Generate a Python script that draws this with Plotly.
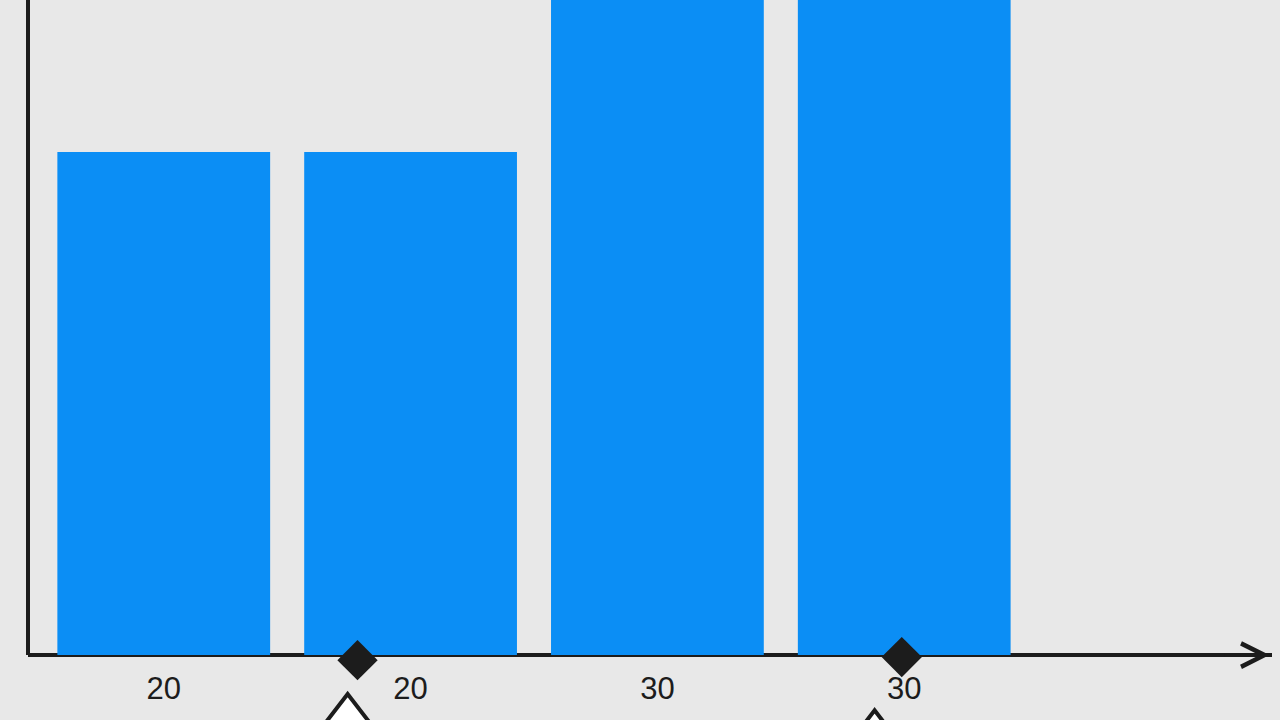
import plotly.graph_objects as go

# datos del gráfico
categorias = [0, 1, 2, 3]
valores = [20, 20, 30, 30]
etiquetas = ["20", "20", "30", "30"]

# marcadores sobre / bajo el eje x
rombos_x = [0.785, 2.99]
rombos_y = [-0.2, -0.08]
triangulos_x = [0.745, 2.88]
triangulos_y = [-2.7, -3.35]

AZUL = "#0b8ef5"
FONDO = "#e8e8e8"
NEGRO = "#1c1c1c"

X_MIN, X_MAX = -0.55, 4.49
Y_MIN, Y_MAX = -2.58, 26.04

fig = go.Figure()

fig.add_trace(go.Bar(
    x=categorias, y=valores,
    marker=dict(color=AZUL, line=dict(width=0)),
    width=0.862,
    showlegend=False, hoverinfo="skip",
))

# etiquetas debajo de cada barra
fig.add_trace(go.Scatter(
    x=categorias, y=[-1.45] * len(categorias),
    mode="text", text=etiquetas,
    textfont=dict(size=31, color=NEGRO, family="Liberation Sans, Arial"),
    showlegend=False, hoverinfo="skip",
))

# triángulos blancos (recortados por el borde inferior)
fig.add_trace(go.Scatter(
    x=triangulos_x, y=triangulos_y, mode="markers",
    marker=dict(symbol="triangle-up", size=58, color="white",
                line=dict(color=NEGRO, width=4)),
    showlegend=False, hoverinfo="skip",
))

# rombos negros sobre el eje
fig.add_trace(go.Scatter(
    x=rombos_x, y=rombos_y, mode="markers",
    marker=dict(symbol="diamond", size=31, color=NEGRO, line=dict(width=0)),
    showlegend=False, hoverinfo="skip",
))

# eje y (solo por encima del eje x)
fig.add_shape(
    type="line", xref="paper", yref="y", x0=0, x1=0, y0=0, y1=Y_MAX,
    line=dict(color=NEGRO, width=4), layer="above",
)

# punta de flecha del eje x
fig.add_annotation(
    x=X_MAX - 0.01, y=0, ax=X_MAX - 0.2, ay=0, xref="x", yref="y", axref="x", ayref="y",
    text="", showarrow=True, arrowhead=5, arrowsize=1.15, arrowwidth=4, arrowcolor=NEGRO,
)

fig.update_xaxes(
    range=[X_MIN, X_MAX], showgrid=False, zeroline=False, showticklabels=False,
    showline=False, ticks="",
)
fig.update_yaxes(
    range=[Y_MIN, Y_MAX], showgrid=False, showticklabels=False, showline=False, ticks="",
    zeroline=True, zerolinecolor=NEGRO, zerolinewidth=4,
)

fig.update_layout(
    width=1280, height=720,
    margin=dict(l=28, r=8, t=0, b=0),
    paper_bgcolor=FONDO, plot_bgcolor=FONDO,
    bargap=0.138,
)

fig.write_html("out.html", config={"displayModeBar": False},
               post_script="document.body.style.margin='0';")
